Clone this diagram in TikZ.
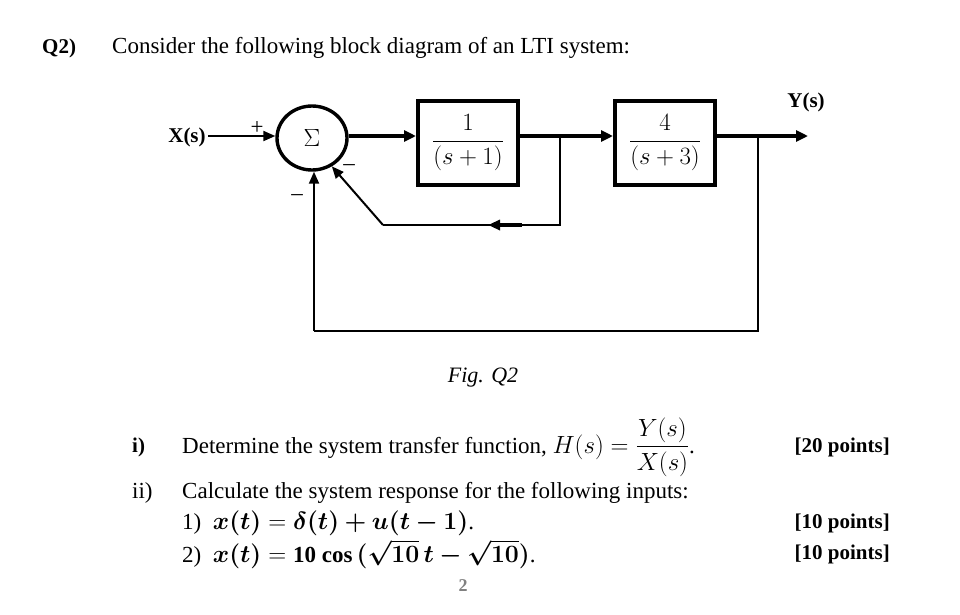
\documentclass[tikz,border=0pt]{standalone}
\usepackage{amsmath,bm}
\usepackage{fontspec}
\setmainfont{Liberation Serif}
\usetikzlibrary{arrows.meta,shapes.geometric}
\begin{document}
\begin{tikzpicture}[x=1pt,y=-1pt,
  txt/.style={inner sep=0pt,font=\fontsize{23}{26}\selectfont},
  bt/.style={inner sep=0pt,font=\bfseries\fontsize{21}{24}\selectfont},
  blk/.style={draw,line width=4pt,minimum width=100pt,minimum height=84pt,inner sep=0pt},
  sig/.style={line width=3.6pt,-{Triangle[length=12pt,width=11pt]}},
  thin/.style={line width=2pt},
  tarr/.style={thin,-{Triangle[length=12pt,width=10pt]}}]
\useasboundingbox (0,0) rectangle (960,614);
\node[bt,anchor=west] (q) at (42,48) {Q2)};
\node[txt,anchor=west] (c) at (112,48) {Consider the following block diagram of an LTI system:};
\node[ellipse,draw,line width=3.4pt,minimum width=70pt,minimum height=64pt,inner sep=0pt] (sum) at (312,138) {\fontsize{24}{26}\selectfont$\Sigma$};
\node[blk] (b1) at (468,143) {\fontsize{23}{26}\selectfont$\dfrac{1}{(s+1)}$};
\node[blk] (b2) at (665,143) {\fontsize{23}{26}\selectfont$\dfrac{4}{(s+3)}$};
\node[bt] (x) at (187,137) {X(s)};
\node[bt] (y) at (806,102) {Y(s)};
\node[txt] (p) at (257,128) {+};
\node[txt] (m1) at (349,168) {--};
\node[txt] (m2) at (297,198) {--};
\coordinate (xo) at (208,136);
\coordinate (yo) at (808,136);
\coordinate (br1) at (560,136);
\coordinate (br2) at (758,136);
\coordinate (d1) at (560,225);
\coordinate (l1) at (383,225);
\coordinate (d2) at (758,331);
\coordinate (l2) at (314,331);
\draw[tarr] (xo) -- (sum.west |- xo);
\draw[sig] (sum.east |- xo) -- (b1.west |- xo);
\draw[sig] (b1.east |- xo) -- (b2.west |- xo);
\draw[sig] (b2.east |- xo) -- (yo);
\draw[thin] (br1) -- (d1) -- (l1);
\draw[line width=3.6pt,-{Triangle[length=12pt,width=10pt]}] (522,225) -- (488,225);
\draw[tarr] (l1) -- (sum.-55);
\draw[thin] (br2) -- (d2) -- (l2);
\draw[tarr] (l2) -- (sum.south -| l2);
\node[txt,font=\itshape\fontsize{22}{24}\selectfont] (fig) at (483,378) {Fig. Q2};
\node[bt,anchor=west] (i) at (132,447) {i)};
\node[txt,anchor=west] (t1) at (182,447) {Determine the system transfer function, $H(s)=\dfrac{Y(s)}{X(s)}$.};
\node[bt,anchor=east] (p1) at (890,447) {[20 points]};
\node[txt,anchor=west] (ii) at (132,493) {ii)};
\node[txt,anchor=west] (t2) at (182,493) {Calculate the system response for the following inputs:};
\node[txt,anchor=west] (t3) at (182,523) {1)\ \ $\bm{x(t)} = \bm{\delta(t)+u(t-1)}$.};
\node[txt,anchor=west] (t4) at (182,554) {2)\ \ $\bm{x(t)} = \mathbf{10\ cos}\,\bm{(\sqrt{10}\,t-\sqrt{10})}$.};
\node[bt,anchor=east] (p2) at (890,523) {[10 points]};
\node[bt,anchor=east] (p3) at (890,554) {[10 points]};
\node[txt,font=\bfseries\fontsize{18}{20}\selectfont,text=gray] (pg) at (463,586) {2};
\end{tikzpicture}
\end{document}
